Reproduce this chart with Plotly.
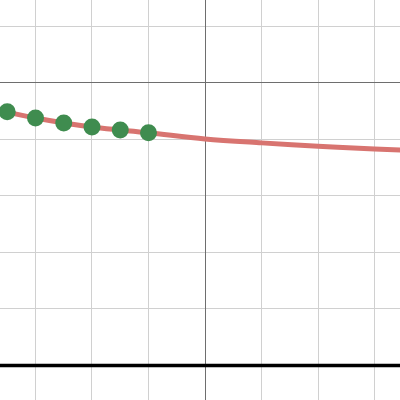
import plotly.graph_objects as go

pts_x = [-3.5, -3, -2.5, -2, -1.5, -1]
pts_y = [-0.51, -0.62, -0.71, -0.78, -0.83, -0.88]
curve_x = [-3.7, -3, -2, -1, 0, 1, 2, 3, 3.5]
curve_y = [-0.47, -0.62, -0.78, -0.88, -0.99, -1.06, -1.12, -1.17, -1.19]
hline_y = -5

fig = go.Figure()
fig.add_trace(go.Scatter(x=[-4, 4], y=[hline_y, hline_y], mode="lines",
                         line=dict(color="black", width=3.5)))
fig.add_trace(go.Scatter(x=curve_x, y=curve_y, mode="lines",
                         line=dict(color="#d87470", width=5, shape="spline")))
fig.add_trace(go.Scatter(x=pts_x, y=pts_y, mode="markers",
                         marker=dict(color="#3f8c4f", size=17)))
ax = dict(showgrid=True, gridcolor="#d0d0d0", gridwidth=1, dtick=1,
          zeroline=True, zerolinecolor="#6e6e6e", zerolinewidth=1.2,
          showticklabels=False, ticks="", fixedrange=True)
fig.update_layout(width=400, height=400, margin=dict(l=0, r=0, t=0, b=0),
                  plot_bgcolor="white", paper_bgcolor="white", showlegend=False,
                  xaxis=dict(range=[-3.628, 3.451], **ax),
                  yaxis=dict(range=[-5.611, 1.469], **ax))
fig.write_html("out.html", config={"displayModeBar": False},
               post_script="document.body.style.margin='0';document.body.style.overflow='hidden';")
